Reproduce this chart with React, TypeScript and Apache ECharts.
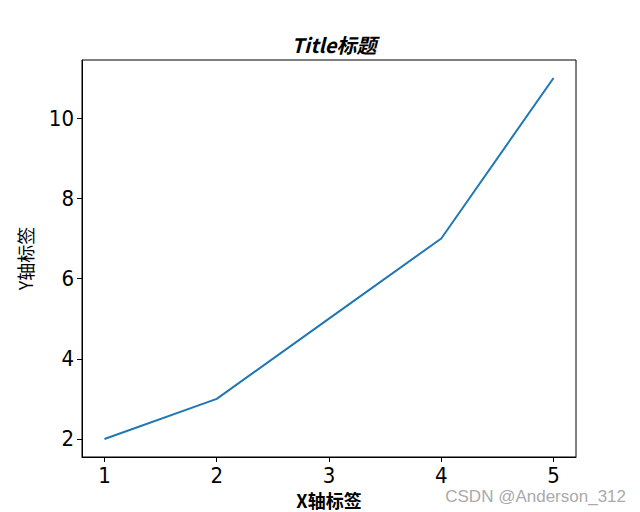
import React, { useEffect, useRef } from 'react';
import * as echarts from 'echarts';

const xValues = [1, 2, 3, 4, 5];
const yValues = [2, 3, 5, 7, 11];
const xTicks = [1, 2, 3, 4, 5];
const yTicks = [2, 4, 6, 8, 10];

const titleText = 'Title标题';
const xName = 'X轴标签';
const yName = 'Y轴标签';
const watermark = 'CSDN @Anderson_312';

const tickFont = '"DejaVu Sans Condensed", "Liberation Sans Narrow", "Liberation Sans", sans-serif';
const cjkFont = '"Noto Sans CJK SC", sans-serif';

export default function App() {
  const ref = useRef<HTMLDivElement | null>(null);

  useEffect(() => {
    if (!ref.current) return undefined;
    const chart = echarts.init(ref.current, undefined, { renderer: 'svg' });

    const axisCommon = {
      axisLine: { show: true, lineStyle: { color: '#000', width: 1 } },
      axisTick: { show: true, inside: false, length: 5, lineStyle: { color: '#000' } },
      splitLine: { show: false },
    };

    chart.setOption({
      animation: false,
      backgroundColor: '#fff',
      title: {
        text: titleText,
        left: 329,
        textAlign: 'center',
        top: 29,
        textStyle: {
          fontFamily: cjkFont,
          fontSize: 20,
          fontWeight: 'bold',
          fontStyle: 'italic',
          color: '#000',
        },
      },
      grid: {
        left: 82,
        right: 64,
        top: 60,
        bottom: 55,
        show: true,
        borderColor: '#000',
        borderWidth: 1,
        containLabel: false,
        outerBoundsMode: 'none',
      },
      xAxis: {
        type: 'value',
        min: 0.8,
        max: 5.2,
        ...axisCommon,
        axisTick: { ...axisCommon.axisTick, customValues: xTicks },
        axisLabel: {
          customValues: xTicks,
          color: '#000',
          fontSize: 22,
          fontFamily: tickFont,
          margin: 7,
        },
        name: xName,
        nameLocation: 'middle',
        nameGap: 34,
        nameTextStyle: {
          fontFamily: cjkFont,
          fontSize: 18,
          lineHeight: 18,
          fontWeight: 'bold',
          color: '#000',
        },
      },
      yAxis: {
        type: 'value',
        min: 1.55,
        max: 11.45,
        ...axisCommon,
        axisTick: { ...axisCommon.axisTick, customValues: yTicks },
        axisLabel: {
          customValues: yTicks,
          color: '#000',
          fontSize: 22,
          fontFamily: tickFont,
          margin: 8,
        },
        name: yName,
        nameLocation: 'middle',
        nameGap: 48,
        nameRotate: 90,
        nameTextStyle: { fontFamily: cjkFont, fontSize: 18, fontWeight: 'normal', color: '#000' },
      },
      series: [
        {
          type: 'line',
          data: xValues.map((x, i) => [x, yValues[i]]),
          showSymbol: false,
          lineStyle: { color: '#1f77b4', width: 2 },
          silent: true,
        },
      ],
      graphic: [
        {
          type: 'text',
          right: 14,
          top: 488,
          style: {
            text: watermark,
            fill: '#aaaaaa',
            font: '17px "Liberation Sans", sans-serif',
          },
        },
      ],
    });

    return () => {
      chart.dispose();
    };
  }, []);

  return (
    <div
      ref={ref}
      style={{ position: 'fixed', left: 0, top: 0, width: 640, height: 512 }}
    />
  );
}
